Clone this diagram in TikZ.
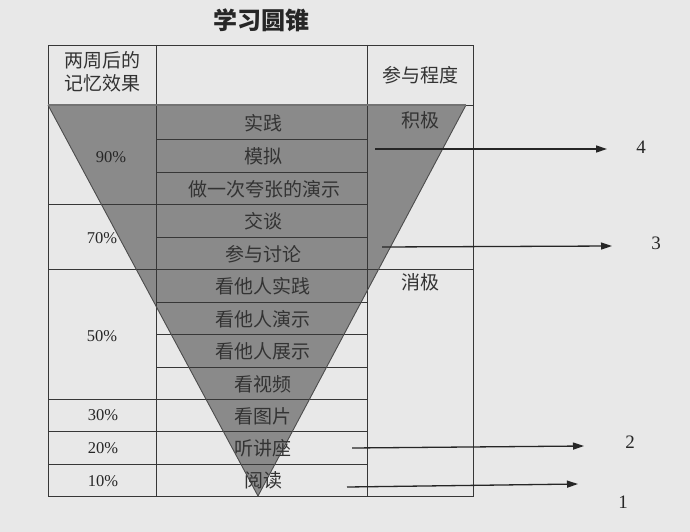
\documentclass[tikz,border=0pt]{standalone}
\usepackage{fontspec}
\setmainfont{Liberation Serif}
\newfontfamily\cjk{Noto Sans CJK SC}
\usetikzlibrary{arrows.meta}
\usetikzlibrary{positioning}
\definecolor{paper}{RGB}{232,232,232}
\definecolor{conegray}{RGB}{138,138,138}
\definecolor{ink}{RGB}{55,55,55}
\tikzset{
	gridline/.style={draw=ink, line width=0.8pt},
	coneedge/.style={draw=black!70, line width=0.9pt, line join=round},
	conetop/.style={draw=black!55, line width=2pt},
	item/.style={font=\cjk\fontsize{19}{23}\selectfont, text=black!80, align=center},
	pct/.style={font=\fontsize{16.5}{18}\selectfont, text=black!85},
	num/.style={font=\fontsize{19}{22}\selectfont, text=black!85},
	heading/.style={font=\cjk\bfseries\fontsize{24}{28}\selectfont, text=black!85},
	arrow/.style={draw=black!85, line width=1.3pt, -{Triangle[length=11pt, width=7pt]}}
}
\begin{document}
\begin{tikzpicture}[x=1pt, y=-1pt]

\fill[paper] (0,0) rectangle (690,532);
\useasboundingbox (0,0) rectangle (690,532);

% cone
\fill[conegray] (48,105) -- (466,105) -- (258,496) -- cycle;

% table
\draw[gridline] (48,45) rectangle (473,496);
\draw[gridline] (156,45) -- (156,496);
\draw[gridline] (367,45) -- (367,496);
\draw[gridline] (48,105) -- (473,105);
\draw[gridline] (48,204) -- (156,204) (48,269) -- (156,269) (48,399) -- (156,399)
	(48,431) -- (156,431) (48,464) -- (156,464);
\draw[gridline] (156,139) -- (367,139) (156,172) -- (367,172) (156,204) -- (367,204)
	(156,237) -- (367,237) (156,269) -- (367,269) (156,302) -- (367,302)
	(156,334) -- (367,334) (156,367) -- (367,367) (156,399) -- (367,399)
	(156,431) -- (367,431) (156,464) -- (367,464);
\draw[gridline] (367,269) -- (473,269);

\draw[coneedge] (48,105) -- (258,496) -- (466,105);
\draw[conetop] (48,105) -- (466,105);

\node[heading] (title) at (261,20) {学习圆锥};

\node[item] (memory) at (102,72) {两周后的\\记忆效果};
\node[item] (degree) at (420,75) {参与程度};
\node[item] (active) at (420,120) {积极};
\node[item] (passive) at (420,282) {消极};

\node[item] (practice) at (263,123) {实践};
\node[item] (simulate) at (263,156) {模拟};
\node[item] (demo) at (264,189) {做一次夸张的演示};
\node[item] (talk) at (263,221) {交谈};
\node[item] (discuss) at (263,254) {参与讨论};
\node[item] (watchpractice) at (263,286) {看他人实践};
\node[item] (watchdemo) at (263,319) {看他人演示};
\node[item] (watchshow) at (263,351) {看他人展示};
\node[item] (video) at (263,384) {看视频};
\node[item] (picture) at (263,416) {看图片};
\node[item] (lecture) at (263,448) {听讲座};
\node[item] (reading) at (263,480) {阅读};

\node[pct] (p90) at (111,157) {90\%};
\node[pct] (p70) at (102,238) {70\%};
\node[pct] (p50) at (102,336) {50\%};
\node[pct] (p30) at (103,415) {30\%};
\node[pct] (p20) at (103,448) {20\%};
\node[pct] (p10) at (103,481) {10\%};

\coordinate (s4) at (375,149);
\coordinate (e4) at (607,149);
\coordinate (s3) at (382,247);
\coordinate (e3) at (612,246);
\coordinate (s2) at (352,448);
\coordinate (e2) at (584,446);
\coordinate (s1) at (347,487);
\coordinate (e1) at (578,484);

\node[num] (n4) at (641,147) {4};
\node[num] (n3) at (656,243) {3};
\node[num] (n2) at (630,442) {2};
\node[num] (n1) at (623,502) {1};

\draw [arrow] (s4) -- (e4);
\draw [arrow] (s3) -- (e3);
\draw [arrow] (s2) -- (e2);
\draw [arrow] (s1) -- (e1);

\end{tikzpicture}
\end{document}
